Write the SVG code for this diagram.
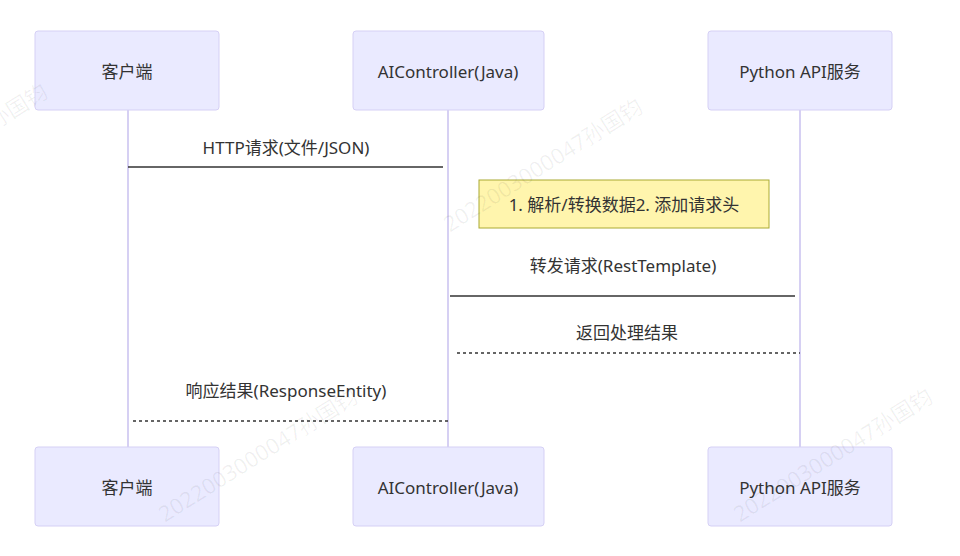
<svg xmlns="http://www.w3.org/2000/svg" width="960" height="556" viewBox="0 0 960 556">
<style>
.box{fill:#eaeaff;stroke:#d5d0f5;stroke-width:1}
.life{stroke:#d6d0f3;stroke-width:2}
text{font-family:"Noto Sans","Noto Sans CJK SC",sans-serif;font-size:17px;fill:#333;text-anchor:middle;dominant-baseline:central}
.msg{stroke:#333;stroke-width:1.5;fill:none}
.dash{stroke-dasharray:3 3}
.wm{font-size:22px;fill:#000;fill-opacity:0.06;text-anchor:start}
</style>
<rect width="960" height="556" fill="#fff"/>
<g id="lifelines">
<line class="life" x1="128" y1="110" x2="128" y2="447"/>
<line class="life" x1="448" y1="110" x2="448" y2="447"/>
<line class="life" x1="800" y1="110" x2="800" y2="447"/>
</g>
<g id="client"><rect class="box" x="35" y="31" width="184" height="79" rx="3"/><text x="127" y="71">客户端</text></g>
<g id="controller"><rect class="box" x="353" y="31" width="191" height="79" rx="3"/><text x="448" y="71">AIController(Java)</text></g>
<g id="python"><rect class="box" x="708" y="31" width="184" height="79" rx="3"/><text x="800" y="71">Python API服务</text></g>
<g id="client-bottom"><rect class="box" x="35" y="447" width="184" height="79" rx="3"/><text x="127" y="487">客户端</text></g>
<g id="controller-bottom"><rect class="box" x="353" y="447" width="191" height="79" rx="3"/><text x="448" y="487">AIController(Java)</text></g>
<g id="python-bottom"><rect class="box" x="708" y="447" width="184" height="79" rx="3"/><text x="800" y="487">Python API服务</text></g>
<g id="note"><rect x="479" y="180" width="290" height="48" fill="#fff5ad" stroke="#aaaa33"/><text x="624" y="204" font-size="18">1. 解析/转换数据2. 添加请求头</text></g>
<g id="connectors">
<line class="msg" x1="128" y1="167" x2="443" y2="167"/><text x="286" y="147">HTTP请求(文件/JSON)</text>
<line class="msg" x1="450" y1="296" x2="795" y2="296"/><text x="623" y="265">转发请求(RestTemplate)</text>
<line class="msg dash" x1="457" y1="353" x2="800" y2="353"/><text x="627" y="332">返回处理结果</text>
<line class="msg dash" x1="133" y1="421" x2="448" y2="421"/><text x="286" y="390">响应结果(ResponseEntity)</text>
</g>
<g id="watermark">
<text class="wm" transform="translate(-150,210) rotate(-32)">2022003000047孙国钧</text>
<text class="wm" transform="translate(445,225) rotate(-32)">2022003000047孙国钧</text>
<text class="wm" transform="translate(160,515) rotate(-32)">2022003000047孙国钧</text>
<text class="wm" transform="translate(735,515) rotate(-32)">2022003000047孙国钧</text>
</g>
</svg>
